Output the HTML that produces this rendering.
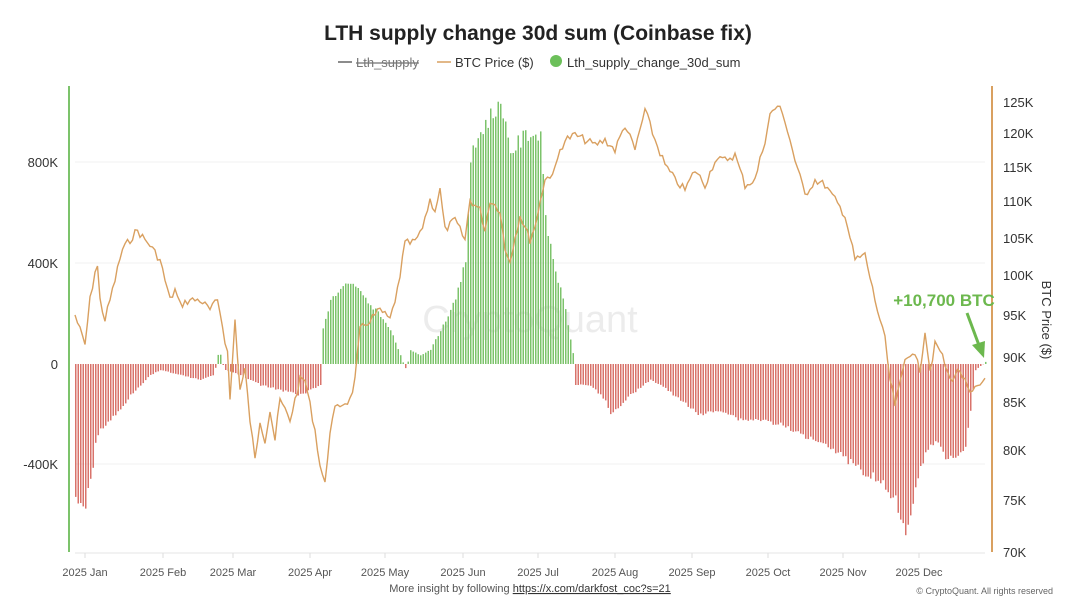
<!DOCTYPE html>
<html><head><meta charset="utf-8"><style>
body{margin:0;background:#fff;width:1080px;height:604px;overflow:hidden;font-family:"Liberation Sans",sans-serif}
</style></head><body>
<svg id="s" width="1080" height="604" xmlns="http://www.w3.org/2000/svg" font-family="Liberation Sans, sans-serif">
<text x="538" y="40" text-anchor="middle" font-size="21" font-weight="bold" fill="#222">LTH supply change 30d sum (Coinbase fix)</text>
<line x1="338" y1="62" x2="352" y2="62" stroke="#666" stroke-width="1.5"/>
<text x="356" y="67" font-size="13" fill="#777" text-decoration="line-through">Lth_supply</text>
<line x1="437" y1="62" x2="451" y2="62" stroke="#d9a060" stroke-width="1.5"/>
<text x="455" y="67" font-size="13" fill="#333">BTC Price ($)</text>
<circle cx="556" cy="61" r="6" fill="#6cc05a"/>
<text x="567" y="67" font-size="13" fill="#333">Lth_supply_change_30d_sum</text>
<g stroke="#f0f0f0" stroke-width="1">
<line x1="75" y1="162" x2="985" y2="162"/><line x1="75" y1="263" x2="985" y2="263"/><line x1="75" y1="464" x2="985" y2="464"/>
</g>
<line x1="69" y1="86" x2="69" y2="552" stroke="#7cc36b" stroke-width="2"/>
<line x1="992" y1="86" x2="992" y2="552" stroke="#d9a060" stroke-width="2"/>
<line x1="75" y1="553" x2="985" y2="553" stroke="#e6e6e6"/>
<g font-size="13" fill="#333" text-anchor="end">
<text x="58" y="167">800K</text><text x="58" y="268">400K</text><text x="58" y="369">0</text><text x="58" y="469">-400K</text>
</g>
<g font-size="13" fill="#333" id="ry"></g>
<text transform="translate(1042,320) rotate(90)" text-anchor="middle" font-size="13" fill="#333">BTC Price ($)</text>
<g font-size="11" fill="#555" text-anchor="middle" id="mx"></g>
<text x="530" y="332" text-anchor="middle" font-size="38" fill="#000" opacity="0.07">CryptoQuant</text>
<g id="bars"></g>
<polyline id="pl" fill="none" stroke="#d9a060" stroke-width="1.4"/>
<text x="944" y="306" text-anchor="middle" font-size="17" font-weight="bold" fill="#6cb84e">+10,700 BTC</text>
<line x1="967" y1="313" x2="980" y2="348" stroke="#6cb84e" stroke-width="3"/>
<polygon points="984,358 972,345 985,341" fill="#6cb84e"/>
<text x="530" y="592" text-anchor="middle" font-size="11" fill="#555">More insight by following <tspan text-decoration="underline" fill="#333">https://x.com/darkfost_coc?s=21</tspan></text>
<text x="1053" y="594" text-anchor="end" font-size="9" fill="#666">© CryptoQuant. All rights reserved</text>
</svg>
<script>
var ns="http://www.w3.org/2000/svg";
function el(p,t,a,txt){var e=document.createElementNS(ns,t);for(var k in a)e.setAttribute(k,a[k]);if(txt)e.textContent=txt;document.getElementById(p).appendChild(e);return e;}
[[125,102],[120,133],[115,167],[110,201],[105,238],[100,275],[95,315],[90,357],[85,402],[80,450],[75,500],[70,552]].forEach(function(a){el("ry","text",{x:1003,y:a[1]+5},a[0]+"K");});
[["Jan",85],["Feb",163],["Mar",233],["Apr",310],["May",385],["Jun",463],["Jul",538],["Aug",615],["Sep",692],["Oct",768],["Nov",843],["Dec",919]].forEach(function(a){el("mx","text",{x:a[1],y:576},"2025 "+a[0]);el("mx","line",{x1:a[1],y1:553,x2:a[1],y2:558,stroke:"#ddd"});});
function interp(k,x){for(var i=0;i<k.length-1;i++){if(x>=k[i][0]&&x<=k[i+1][0]){var t=(x-k[i][0])/(k[i+1][0]-k[i][0]);return k[i][1]+t*(k[i+1][1]-k[i][1]);}}return k[k.length-1][1];}
var B=[[75,500],[85,505],[92,470],[95,440],[100,430],[110,420],[120,410],[130,395],[140,385],[150,375],[160,370],[180,375],[200,380],[213,375],[216,364],[217,355],[221,355],[222,364],[225,370],[240,375],[260,385],[280,390],[300,395],[320,385],[321,364],[322,330],[330,300],[345,285],[355,285],[365,300],[375,310],[390,330],[400,355],[403,364],[405,368],[407,364],[410,350],[420,355],[430,350],[440,330],[455,300],[465,260],[470,160],[480,130],[490,115],[500,110],[510,150],[520,140],[530,130],[540,140],[545,220],[555,270],[565,310],[572,350],[574,364],[575,385],[590,385],[605,400],[610,415],[630,395],[650,380],[660,385],[680,400],[700,415],[720,410],[740,420],[760,420],[780,425],[800,435],[820,440],[840,455],[860,470],[880,480],[895,500],[900,520],[905,530],[915,490],[925,450],[935,440],[945,460],[955,455],[965,450],[970,410],[975,370],[980,366],[983,364],[985,362]];
var h=0;for(var x=75;x<=985;x+=2.5){h=(h*9301+49297)%233280;var y=interp(B,x);var n=(h/233280-0.5)*8;var d=y-364;y=364+d*(1+n/100);var g=y<364;el("bars","rect",{x:x.toFixed(1),y:Math.min(y,364).toFixed(1),width:1.5,height:Math.abs(y-364).toFixed(1),fill:g?"#7cc36b":"#d9736b"});}
var P=[[75,315],[80,330],[85,345],[90,300],[97,260],[100,300],[105,320],[110,300],[115,280],[122,250],[130,240],[137,230],[145,240],[150,245],[160,260],[170,300],[175,290],[180,305],[190,300],[200,300],[210,310],[218,300],[225,340],[228,355],[230,400],[235,320],[240,390],[245,370],[250,420],[255,460],[260,420],[265,440],[270,410],[275,440],[280,400],[290,420],[300,380],[305,380],[315,430],[320,465],[325,485],[330,430],[335,410],[340,405],[350,400],[355,380],[360,330],[370,320],[380,310],[390,320],[400,280],[405,240],[410,245],[420,235],[430,200],[435,210],[440,190],[445,230],[455,220],[465,240],[470,200],[480,210],[485,230],[490,200],[500,210],[505,250],[510,260],[520,215],[530,240],[537,220],[540,200],[545,180],[555,170],[560,150],[565,140],[575,135],[585,140],[595,145],[605,140],[615,150],[625,125],[635,150],[645,110],[655,140],[665,165],[675,180],[685,190],[695,170],[705,185],[715,160],[725,160],[735,155],[745,185],[755,180],[765,140],[770,115],[778,105],[785,120],[795,160],[805,195],[815,180],[825,185],[835,200],[845,215],[855,260],[865,255],[875,300],[885,340],[890,380],[895,405],[900,385],[905,360],[912,350],[920,370],[925,330],[930,370],[935,345],[940,350],[950,380],[960,370],[970,395],[980,385],[985,378]];
var pts=[];h=7;for(var x=75;x<=985;x+=2.5){h=(h*9301+49297)%233280;pts.push(x+","+(interp(P,x)+(h/233280-0.5)*8).toFixed(1));}
document.getElementById("pl").setAttribute("points",pts.join(" "));
</script>
</body></html>
